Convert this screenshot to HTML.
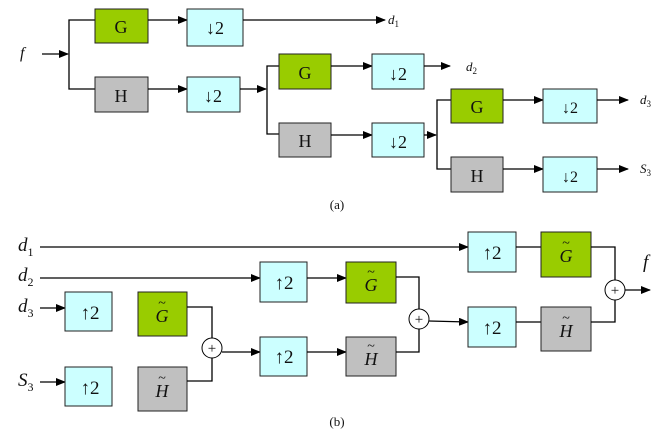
<!DOCTYPE html>
<html><head><meta charset="utf-8"><style>
html,body{margin:0;padding:0;background:#fff;width:663px;height:435px;overflow:hidden}
svg{display:block}
text{font-family:"Liberation Serif",serif;fill:#111}
.g{fill:#99cc00;stroke:#222;stroke-width:1}
.h{fill:#c0c0c0;stroke:#222;stroke-width:1}
.c{fill:#ccffff;stroke:#222;stroke-width:1}
.l{stroke:#000;stroke-width:1.3;fill:none}
.o{fill:#fff;stroke:#000;stroke-width:1}
</style></head><body>
<svg width="663" height="435" viewBox="0 0 663 435" xmlns="http://www.w3.org/2000/svg">
<defs><marker id="a" markerWidth="10" markerHeight="8" refX="9" refY="4" orient="auto" markerUnits="userSpaceOnUse"><path d="M0,0 L10,4 L0,8 z" fill="#000"/></marker></defs>

<!-- (a) -->
<text x="20" y="58" font-size="16" font-style="italic">f</text>
<line class="l" x1="42" y1="54" x2="68" y2="54" marker-end="url(#a)"/>
<polyline class="l" points="95,20 69,20 69,89 95,89"/>
<rect class="g" x="95" y="9" width="53" height="34"/>
<text x="121" y="33" font-size="18" text-anchor="middle">G</text>
<rect class="h" x="95" y="77" width="53" height="35"/>
<text x="121" y="102" font-size="18" text-anchor="middle">H</text>
<line class="l" x1="148" y1="20" x2="187" y2="20" marker-end="url(#a)"/>
<line class="l" x1="148" y1="89" x2="187" y2="89" marker-end="url(#a)"/>
<rect class="c" x="187" y="9" width="56" height="37"/>
<text x="215" y="34" font-size="18" text-anchor="middle">↓2</text>
<rect class="c" x="187" y="77" width="53" height="35"/>
<text x="213" y="102" font-size="18" text-anchor="middle">↓2</text>
<line class="l" x1="243" y1="20" x2="385" y2="20" marker-end="url(#a)"/>
<text x="388" y="24" font-size="13" font-style="italic">d<tspan font-size="9" dy="3" font-style="normal">1</tspan></text>
<line class="l" x1="240" y1="89" x2="266" y2="89" marker-end="url(#a)"/>
<polyline class="l" points="279,66 267,66 267,134 279,134"/>
<rect class="g" x="279" y="54" width="52" height="35"/>
<text x="305" y="79" font-size="18" text-anchor="middle">G</text>
<rect class="h" x="279" y="123" width="52" height="34"/>
<text x="305" y="147" font-size="18" text-anchor="middle">H</text>
<line class="l" x1="331" y1="66" x2="372" y2="66" marker-end="url(#a)"/>
<line class="l" x1="331" y1="135" x2="372" y2="135" marker-end="url(#a)"/>
<rect class="c" x="372" y="54" width="52" height="35"/>
<text x="398" y="80" font-size="18" text-anchor="middle">↓2</text>
<rect class="c" x="372" y="123" width="52" height="34"/>
<text x="398" y="148" font-size="18" text-anchor="middle">↓2</text>
<line class="l" x1="424" y1="66" x2="450" y2="66" marker-end="url(#a)"/>
<text x="466" y="71" font-size="13" font-style="italic">d<tspan font-size="9" dy="3" font-style="normal">2</tspan></text>
<line class="l" x1="424" y1="135" x2="436" y2="135" marker-end="url(#a)"/>
<polyline class="l" points="451,100 437,100 437,169 451,169"/>
<rect class="g" x="451" y="89" width="52" height="34"/>
<text x="477" y="113" font-size="18" text-anchor="middle">G</text>
<rect class="h" x="451" y="157" width="52" height="35"/>
<text x="477" y="182" font-size="18" text-anchor="middle">H</text>
<line class="l" x1="503" y1="100" x2="543" y2="100" marker-end="url(#a)"/>
<line class="l" x1="503" y1="169" x2="543" y2="169" marker-end="url(#a)"/>
<rect class="c" x="543" y="89" width="54" height="34"/>
<text x="570" y="113" font-size="16" text-anchor="middle">↓2</text>
<rect class="c" x="543" y="157" width="54" height="35"/>
<text x="570" y="182" font-size="16" text-anchor="middle">↓2</text>
<line class="l" x1="597" y1="100" x2="628" y2="100" marker-end="url(#a)"/>
<line class="l" x1="597" y1="169" x2="628" y2="169" marker-end="url(#a)"/>
<text x="640" y="104" font-size="13" font-style="italic">d<tspan font-size="9" dy="3" font-style="normal">3</tspan></text>
<text x="640" y="173" font-size="13" font-style="italic">S<tspan font-size="9" dy="3" font-style="normal">3</tspan></text>
<text x="337" y="209" font-size="13" text-anchor="middle">(a)</text>

<!-- (b) -->
<text x="18" y="251" font-size="19" font-style="italic">d<tspan font-size="12" dy="5" font-style="normal">1</tspan></text>
<text x="18" y="281" font-size="19" font-style="italic">d<tspan font-size="12" dy="5" font-style="normal">2</tspan></text>
<text x="18" y="312" font-size="19" font-style="italic">d<tspan font-size="12" dy="5" font-style="normal">3</tspan></text>
<text x="18" y="386" font-size="19" font-style="italic">S<tspan font-size="12" dy="5" font-style="normal">3</tspan></text>

<line class="l" x1="40" y1="247" x2="468" y2="247" marker-end="url(#a)"/>
<line class="l" x1="40" y1="278" x2="260" y2="278" marker-end="url(#a)"/>
<line class="l" x1="40" y1="308" x2="65" y2="308" marker-end="url(#a)"/>
<line class="l" x1="40" y1="382" x2="65" y2="382" marker-end="url(#a)"/>

<rect class="c" x="65" y="292" width="47" height="39"/>
<text x="90" y="319" font-size="19" text-anchor="middle">↑2</text>
<rect class="c" x="65" y="367" width="47" height="39"/>
<text x="90" y="394" font-size="19" text-anchor="middle">↑2</text>
<rect class="g" x="138" y="292" width="49" height="44"/>
<text x="162" y="322" font-size="18" font-style="italic" text-anchor="middle">G</text><text x="162" y="307" font-size="14" text-anchor="middle">~</text>
<rect class="h" x="138" y="367" width="49" height="44"/>
<text x="162" y="397" font-size="18" font-style="italic" text-anchor="middle">H</text><text x="162" y="382" font-size="14" text-anchor="middle">~</text>
<polyline class="l" points="187,307 212,307 212,338"/>
<polyline class="l" points="187,381 212,381 212,358"/>
<circle class="o" cx="212" cy="348" r="10"/>
<text x="212" y="353" font-size="15" text-anchor="middle">+</text>
<line class="l" x1="222" y1="352" x2="260" y2="352" marker-end="url(#a)"/>

<rect class="c" x="260" y="262" width="47" height="40"/>
<text x="284" y="289" font-size="19" text-anchor="middle">↑2</text>
<rect class="c" x="260" y="337" width="47" height="39"/>
<text x="284" y="363" font-size="19" text-anchor="middle">↑2</text>
<line class="l" x1="307" y1="278" x2="346" y2="278" marker-end="url(#a)"/>
<line class="l" x1="307" y1="352" x2="346" y2="352" marker-end="url(#a)"/>
<rect class="g" x="346" y="262" width="50" height="41"/>
<text x="371" y="291" font-size="18" font-style="italic" text-anchor="middle">G</text><text x="371" y="276" font-size="14" text-anchor="middle">~</text>
<rect class="h" x="346" y="337" width="50" height="39"/>
<text x="371" y="365" font-size="18" font-style="italic" text-anchor="middle">H</text><text x="371" y="350" font-size="14" text-anchor="middle">~</text>
<polyline class="l" points="396,277 419,277 419,309"/>
<polyline class="l" points="396,352 419,352 419,329"/>
<circle class="o" cx="419" cy="319" r="10"/>
<text x="419" y="324" font-size="15" text-anchor="middle">+</text>
<line class="l" x1="429" y1="321" x2="468" y2="322" marker-end="url(#a)"/>

<rect class="c" x="468" y="232" width="48" height="40"/>
<text x="492" y="259" font-size="19" text-anchor="middle">↑2</text>
<rect class="c" x="468" y="307" width="48" height="40"/>
<text x="492" y="334" font-size="19" text-anchor="middle">↑2</text>
<line class="l" x1="516" y1="247" x2="541" y2="247"/>
<line class="l" x1="516" y1="322" x2="541" y2="322"/>
<rect class="g" x="541" y="232" width="50" height="45"/>
<text x="566" y="262" font-size="18" font-style="italic" text-anchor="middle">G</text><text x="566" y="247" font-size="14" text-anchor="middle">~</text>
<rect class="h" x="541" y="307" width="50" height="44"/>
<text x="566" y="337" font-size="18" font-style="italic" text-anchor="middle">H</text><text x="566" y="322" font-size="14" text-anchor="middle">~</text>
<polyline class="l" points="591,247 615,247 615,280"/>
<polyline class="l" points="591,322 615,322 615,300"/>
<circle class="o" cx="615" cy="290" r="10"/>
<text x="615" y="295" font-size="15" text-anchor="middle">+</text>
<line class="l" x1="625" y1="290" x2="650" y2="290" marker-end="url(#a)"/>
<text x="643" y="268" font-size="19" font-style="italic">f</text>
<text x="337" y="426" font-size="13" text-anchor="middle">(b)</text>
</svg>
</body></html>
